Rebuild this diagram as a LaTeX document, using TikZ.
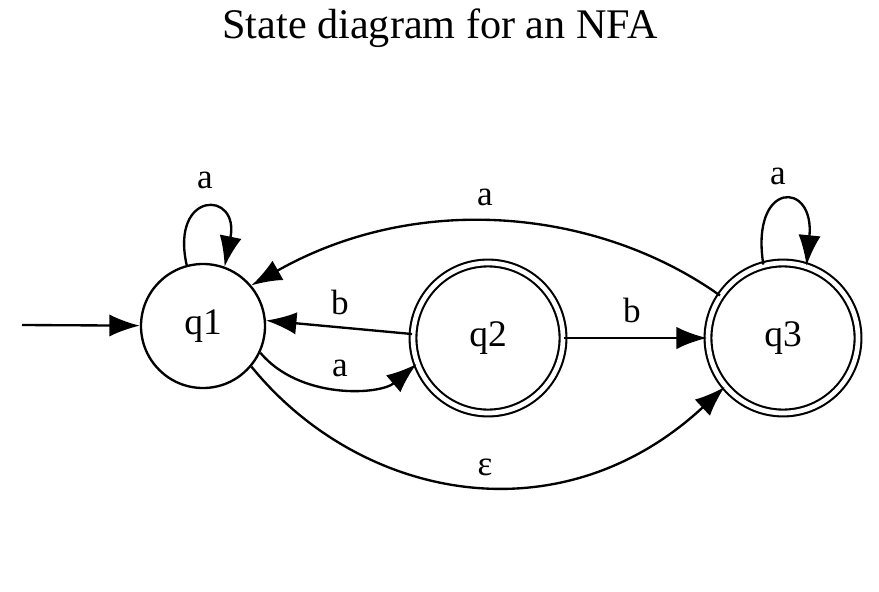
\documentclass[tikz,border=0pt]{standalone}
\usepackage{fontspec}
\setmainfont{Liberation Serif}
\usetikzlibrary{arrows.meta}
\begin{document}
\begin{tikzpicture}[x=0.03cm,y=-0.03cm,
  st/.style={circle,draw,line width=2pt,inner sep=0pt,font=\fontsize{32}{32}\selectfont},
  acc/.style={circle,draw,line width=1.8pt,double,double distance=4pt,inner sep=0pt,font=\fontsize{32}{32}\selectfont},
  e/.style={line width=2pt,-{Latex[length=26pt,width=19pt]}},
  lb/.style={font=\fontsize{30}{30}\selectfont}]
\useasboundingbox (0,0) rectangle (879,591);
\node[font=\fontsize{36}{36}\selectfont] (t) at (440,28) {State diagram for an NFA};
\node[st,minimum size=3.72cm] (q1) at (203,326) {q1};
\node[acc,minimum size=4.5cm] (q2) at (488,338) {q2};
\node[acc,minimum size=4.5cm] (q3) at (783,338) {q3};
\coordinate (s) at (22,325);
\draw[e] (s) -- (q1);
\draw[e] (q1.105) .. controls (170,190) and (240,190) .. (q1.70);
\node[lb] (la1) at (205,180) {a};
\draw[e] (q3.105) .. controls (750,180) and (815,180) .. (q3.72);
\node[lb] (la3) at (778,176) {a};
\draw[e] (q3.146) .. controls (600,210) and (420,190) .. (q1.40);
\node[lb] (la31) at (485,197) {a};
\draw[e] (q2.177) -- (q1.5);
\node[lb] (lb21) at (340,302) {b};
\draw[e] (q1.-25) .. controls (300,400) and (380,395) .. (q2.200);
\node[lb] (la12) at (340,368) {a};
\draw[e] (q2) -- (q3);
\node[lb] (lb23) at (632,310) {b};
\draw[e] (q1.-40) .. controls (360,500) and (560,540) .. (q3.-140);
\node[lb] (le) at (485,467) {ε};
\end{tikzpicture}
\end{document}
